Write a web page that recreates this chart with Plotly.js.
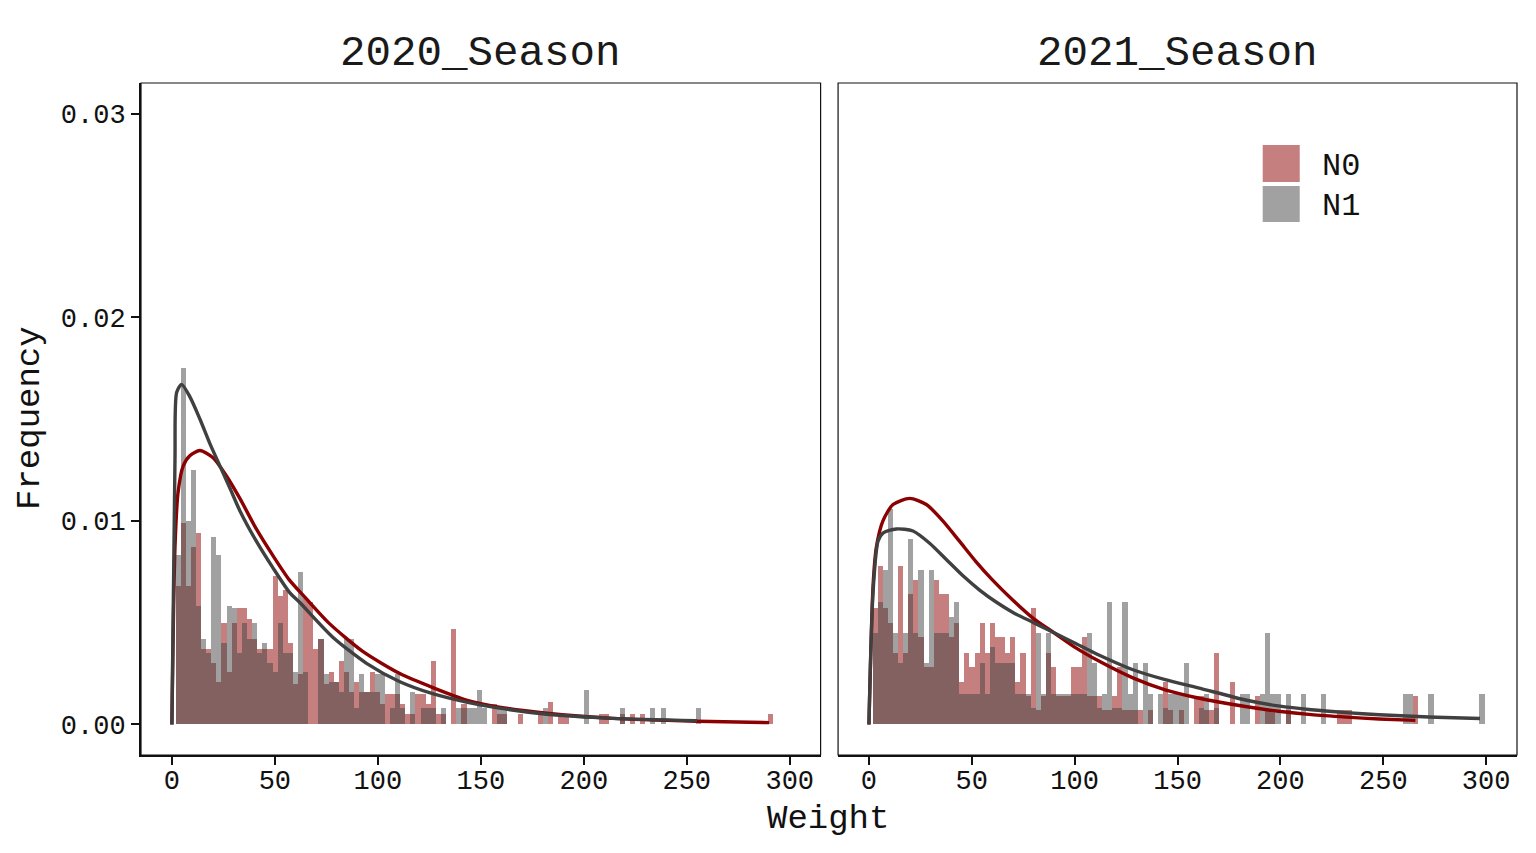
<!DOCTYPE html>
<html>
<head>
<meta charset="utf-8">
<script src="https://cdn.plot.ly/plotly-3.0.1.min.js"></script>
<style>html,body{margin:0;padding:0;background:#fff;}#chart{width:1536px;height:853px;}</style>
</head>
<body>
<div id="chart"></div>
<script>
// ---- data ----
const seasons = ["2020_Season", "2021_Season"];
const groups = ["N0", "N1"];
const xTicks = [0, 50, 100, 150, 200, 250, 300];
const yTicks = [0, 0.01, 0.02, 0.03];
const yTickLabels = ["0.00", "0.01", "0.02", "0.03"];

// histogram bins: first bin centre and bin width (Weight units)
const binStart = 3.0;
const binWidth = 2.479;

// density per bin, 120 bins
const hist2020_N0 = [0.0068,0.0099,0.0068,0.0087,0.0094,0.0037,0.0037,0.0030,0.0021,0.0050,
 0.0026,0.0050,0.0057,0.0057,0.0052,0.0042,0.0037,0.0037,0.0037,0.0073,
 0.0063,0.0066,0.0040,0.0020,0.0025,0.0062,0.0060,0.0037,0.0042,0.0020,
 0.0026,0.0021,0.0031,0.0026,0.0016,0.0021,0.0016,0.0016,0.0026,0.0016,
 0.0010,0.0015,0.0015,0.0015,0.0010,0.0005,0.0005,0.0015,0.0015,0.0010,
 0.0031,0.0005,0.0005,0,0.0047,0,0.0010,0,0,0,
 0,0,0.0010,0.0005,0.0005,0,0,0.0005,0,0,
 0,0.0005,0,0.0011,0,0.0005,0.0005,0,0,0,
 0,0,0,0.0005,0.0005,0,0,0.0005,0,0.0005,
 0,0.0005,0,0,0,0,0,0,0,0,
 0,0,0,0,0,0,0,0,0,0,
 0,0,0,0,0,0,0.0005,0,0,0];
const hist2020_N1 = [0.0083,0.0175,0.0100,0.0125,0.0058,0.0042,0.0035,0.0092,0.0083,0.0040,
 0.0058,0.0057,0.0035,0.0050,0.0042,0.0050,0.0035,0.0040,0.0030,0.0026,
 0.0050,0.0035,0.0035,0.0026,0.0075,0.0026,0,0,0.0042,0.0025,
 0.0021,0.0021,0.0016,0.0042,0.0042,0.0008,0.0025,0.0016,0.0016,0.0025,
 0.0025,0,0.0008,0.0025,0.0008,0,0.0016,0,0.0008,0.0008,
 0.0008,0,0.0008,0,0,0.0008,0.0008,0.0008,0.0008,0.0017,
 0.0008,0,0,0.0008,0.0008,0,0,0,0,0,
 0,0,0.0008,0,0,0,0,0,0,0,
 0.0017,0,0,0,0,0,0,0.0008,0,0,
 0,0,0,0.0008,0,0.0008,0,0,0,0,
 0,0,0.0008,0,0,0,0,0,0,0,
 0,0,0,0,0,0,0,0,0,0];
const hist2021_N0 = [0.0057,0.0078,0.0057,0.0050,0.0035,0.0078,0.0035,0.0064,0.0071,0.0043,
 0.0028,0.0028,0.0071,0.0064,0.0064,0.0043,0.0050,0.0021,0.0035,0.0028,
 0.0035,0.0050,0.0035,0.0050,0.0043,0.0043,0.0035,0.0043,0.0021,0.0035,
 0.0014,0.0057,0.0007,0.0014,0.0035,0.0028,0.0014,0.0014,0.0014,0.0028,
 0.0028,0.0043,0.0014,0.0014,0.0014,0.0007,0.0007,0.0014,0.0028,0.0007,
 0.0007,0.0007,0.0007,0,0.0007,0,0,0.0021,0.0007,0,
 0.0007,0,0,0.0014,0.0014,0.0007,0.0007,0.0035,0,0,
 0.0021,0,0,0,0,0.0014,0,0.0007,0.0007,0,
 0,0.0007,0,0,0,0,0,0,0,0,
 0,0.0007,0.0007,0.0007,0,0,0,0,0,0,
 0,0,0,0,0,0,0.0014,0,0,0,
 0,0,0,0,0,0,0,0,0,0];
const hist2021_N1 = [0.0045,0.0060,0.0076,0.0106,0.0045,0.0030,0.0045,0.0091,0.0045,0.0076,
 0.0030,0.0076,0.0045,0.0045,0.0045,0.0053,0.0060,0.0015,0.0015,0.0015,
 0.0015,0.0030,0.0015,0.0038,0.0030,0.0030,0.0030,0.0030,0.0015,0.0015,
 0.0015,0.0008,0.0045,0.0015,0.0045,0.0015,0.0015,0.0015,0.0015,0.0015,
 0.0015,0.0015,0.0045,0.0030,0.0008,0.0015,0.0060,0.0008,0.0008,0.0060,
 0.0015,0.0030,0,0.0030,0.0015,0,0.0015,0.0008,0.0015,0.0015,
 0.0015,0.0030,0,0,0.0008,0.0015,0,0.0008,0,0,
 0,0,0.0015,0.0015,0,0,0.0015,0.0045,0.0015,0.0015,
 0,0.0015,0,0,0.0015,0,0,0,0.0015,0,
 0,0,0,0,0,0,0,0,0,0,
 0,0,0,0,0.0015,0.0015,0,0,0,0.0015,
 0,0,0,0,0,0,0,0,0,0.0015];

// fitted density curves
const curve2020_N0_x = [0,1.5,3,5.5,8.7,13.6,20,26.5,33,41,49,57,65,76,92.5,110.7,127,143,159,182,214,255,290];
const curve2020_N0_y = [0,0.0087,0.0114,0.0127,0.0132,0.01345,0.0131,0.0122,0.0111,0.0096,0.0083,0.0071,0.0062,0.0050,0.0036,0.0025,0.0018,0.0012,0.00085,0.00055,0.0003,0.00016,0.00009];
const curve2020_N1_x = [0,1.5,2.3,4.7,8.7,13.6,18.4,23.3,28.2,33,41,49,57,62,78,94.5,110.7,127,143,159,182,214,255];
const curve2020_N1_y = [0,0.0130,0.0163,0.0167,0.0161,0.0150,0.0138,0.0127,0.0116,0.0105,0.0090,0.0077,0.0065,0.0060,0.0043,0.0030,0.0021,0.0015,0.0011,0.0008,0.0005,0.0003,0.00019];
const curve2021_N0_x = [0,2,3.6,6.8,11.7,19.8,27.9,35.9,44,52,60,70,80,90,100,112,128,144,160,183,199,215,232,248,265.6];
const curve2021_N0_y = [0,0.0068,0.0087,0.0100,0.0108,0.0111,0.0108,0.0100,0.0090,0.0080,0.0071,0.0061,0.0052,0.0045,0.0038,0.0031,0.0023,0.0017,0.0013,0.00088,0.00065,0.00048,0.00036,0.00027,0.0002];
const curve2021_N1_x = [0,2,4.4,6.8,13.3,21.4,29.5,37.6,45.7,53.8,62,70,80,90,100,112,128,144,160,183,199,215,232,248,264,280,297];
const curve2021_N1_y = [0,0.0065,0.0090,0.0094,0.0096,0.0095,0.0089,0.0081,0.0073,0.0066,0.0060,0.0055,0.0050,0.0045,0.0040,0.0034,0.0027,0.0022,0.0018,0.0012,0.00091,0.00072,0.00058,0.00048,0.0004,0.00034,0.00029];

// ---- styles ----
const FONT = "Liberation Mono, DejaVu Sans Mono, monospace";
const fillN0 = "rgba(139,0,0,0.5)";
const fillN1 = "rgba(68,68,68,0.5)";
const lineN0 = "#8B0000";
const lineN1 = "#404040";

function barTrace(y, color, xa, ya, name) {
  return {type: "bar", y: y, x0: binStart, dx: binWidth, width: binWidth,
    xaxis: xa, yaxis: ya, name: name, showlegend: false,
    marker: {color: color, line: {width: 0}}, hoverinfo: "x+y"};
}
function lineTrace(x, y, color, xa, ya, name) {
  return {type: "scatter", mode: "lines", x: x, y: y, xaxis: xa, yaxis: ya,
    name: name, showlegend: false,
    line: {color: color, width: 3.4, shape: "spline", smoothing: 0.7}};
}

const data = [
  barTrace(hist2020_N0, fillN0, "x", "y", groups[0]),
  barTrace(hist2020_N1, fillN1, "x", "y", groups[1]),
  barTrace(hist2021_N0, fillN0, "x2", "y2", groups[0]),
  barTrace(hist2021_N1, fillN1, "x2", "y2", groups[1]),
  lineTrace(curve2020_N0_x, curve2020_N0_y, lineN0, "x", "y", groups[0]),
  lineTrace(curve2020_N1_x, curve2020_N1_y, lineN1, "x", "y", groups[1]),
  lineTrace(curve2021_N0_x, curve2021_N0_y, lineN0, "x2", "y2", groups[0]),
  lineTrace(curve2021_N1_x, curve2021_N1_y, lineN1, "x2", "y2", groups[1])
];

const xCommon = {
  range: [-15, 315], tickvals: xTicks, ticks: "outside", ticklen: 8, tickwidth: 2,
  tickcolor: "#111", showline: true, linewidth: 2, linecolor: "#111",
  showgrid: false, zeroline: false, fixedrange: true, ticklabelstandoff: -8,
  tickfont: {family: FONT, size: 27, color: "#111"}
};

const layout = {
  width: 1536, height: 853,
  margin: {l: 141, r: 19, t: 83, b: 98},
  paper_bgcolor: "#fff", plot_bgcolor: "#fff",
  barmode: "overlay", bargap: 0,
  font: {family: FONT, color: "#111"},
  xaxis: Object.assign({}, xCommon, {domain: [0, 0.4939], anchor: "y"}),
  xaxis2: Object.assign({}, xCommon, {domain: [0.5066, 1], anchor: "y2"}),
  yaxis: {
    domain: [0, 1], anchor: "x", range: [-0.0015, 0.0315],
    tickvals: yTicks, ticktext: yTickLabels, ticks: "outside", ticklen: 8, tickwidth: 2,
    tickcolor: "#111", showline: true, linewidth: 2, linecolor: "#111",
    showgrid: false, zeroline: false, fixedrange: true,
    tickfont: {family: FONT, size: 27, color: "#111"}
  },
  yaxis2: {
    domain: [0, 1], anchor: "x2", matches: "y", range: [-0.0015, 0.0315],
    showticklabels: false, ticks: "", showline: false, showgrid: false, zeroline: false
  },
  shapes: [
    {type: "rect", xref: "x domain", yref: "y domain", x0: 0, x1: 1, y0: 0, y1: 1,
     line: {color: "#111", width: 1.2}, fillcolor: "rgba(0,0,0,0)"},
    {type: "rect", xref: "x2 domain", yref: "y2 domain", x0: 0, x1: 1, y0: 0, y1: 1,
     line: {color: "#111", width: 1.2}, fillcolor: "rgba(0,0,0,0)"},
    {type: "rect", xref: "paper", yref: "paper", x0: 0.8152, x1: 0.8421, y0: 0.8527, y1: 0.9077,
     line: {width: 0}, fillcolor: fillN0},
    {type: "rect", xref: "paper", yref: "paper", x0: 0.8152, x1: 0.8421, y0: 0.7932, y1: 0.8467,
     line: {width: 0}, fillcolor: fillN1}
  ],
  annotations: [
    {text: seasons[0], xref: "paper", yref: "paper", x: 0.2470, y: 1.043,
     xanchor: "center", yanchor: "middle", showarrow: false,
     font: {family: FONT, size: 42.5, color: "#1a1a1a"}},
    {text: seasons[1], xref: "paper", yref: "paper", x: 0.7533, y: 1.043,
     xanchor: "center", yanchor: "middle", showarrow: false,
     font: {family: FONT, size: 42.5, color: "#1a1a1a"}},
    {text: "Weight", xref: "paper", yref: "paper", x: 0.499, y: -0.0945,
     xanchor: "center", yanchor: "middle", showarrow: false,
     font: {family: FONT, size: 34, color: "#111"}},
    {text: "Frequency", xref: "paper", yref: "paper", x: -0.0807, y: 0.5015,
     xanchor: "center", yanchor: "middle", textangle: -90, showarrow: false,
     font: {family: FONT, size: 34, color: "#111"}},
    {text: groups[0], xref: "paper", yref: "paper", x: 0.8566, y: 0.876,
     xanchor: "left", yanchor: "middle", showarrow: false,
     font: {family: FONT, size: 32, color: "#111"}},
    {text: groups[1], xref: "paper", yref: "paper", x: 0.8566, y: 0.816,
     xanchor: "left", yanchor: "middle", showarrow: false,
     font: {family: FONT, size: 32, color: "#111"}}
  ]
};

Plotly.newPlot("chart", data, layout, {displayModeBar: false, staticPlot: true});
</script>
</body>
</html>
